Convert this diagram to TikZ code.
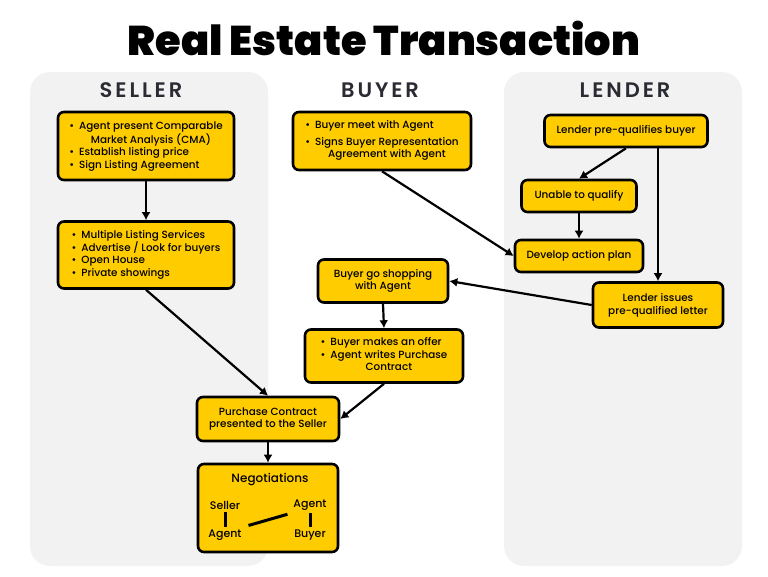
\documentclass[tikz,border=0pt]{standalone}
\usepackage{fontspec}
\setmainfont{Poppins}[UprightFont=* Medium, BoldFont=* Bold]
\newfontfamily\headfont[LetterSpace=14]{Poppins SemiBold}
\newfontfamily\titlefont{Poppins Black}
\usetikzlibrary{arrows.meta}

\definecolor{boxyellow}{HTML}{FFCC00}
\definecolor{panelgray}{HTML}{F2F2F2}
\definecolor{headgray}{HTML}{2B2B33}

\newcommand{\bul}[1]{\textbullet\hspace{5pt}#1}
\newcommand{\bulm}[1]{\textbullet\hspace{5pt}\begin{tabular}[t]{@{}c@{}}#1\end{tabular}}

\begin{document}
\begin{tikzpicture}[x=1pt, y=-1pt, >={Latex[length=8pt,width=9pt]}, line width=2.2pt,
  stage/.style={draw, line width=2.6pt, fill=boxyellow, rounded corners=6pt, inner sep=2pt,
    align=center, font=\fontsize{10.4}{12.8}\selectfont},
  lane/.style={fill=panelgray, rounded corners=20pt},
  lanetitle/.style={text=headgray, font=\headfont\fontsize{21}{24}\selectfont},
  person/.style={inner sep=2pt, font=\fontsize{11}{12}\selectfont}];

\useasboundingbox (0,0) rectangle (768,576);

\fill[lane] (30,72)  rectangle (268,566);
\fill[lane] (504,72) rectangle (742,566);

\node (title) at (384,38) [font=\titlefont\fontsize{41.5}{44}\selectfont] {Real Estate Transaction};

\node (sellerhead) at (141,90) [lanetitle] {SELLER};
\node (buyerhead)  at (380,90) [lanetitle] {BUYER};
\node (lenderhead) at (625,90) [lanetitle] {LENDER};

\node (seller1) at (146,146) [stage, align=left, minimum width=176pt, minimum height=68pt]
  {\bulm{Agent present Comparable\\Market Analysis (CMA)}\\\bul{Establish listing price}\\\bul{Sign Listing Agreement}};
\node (seller2) at (146,255) [stage, align=left, minimum width=176pt, minimum height=67pt]
  {\bul{Multiple Listing Services}\\\bul{Advertise / Look for buyers}\\\bul{Open House}\\\bul{Private showings}};

\node (buyer1) at (382,141) [stage, align=left, minimum width=178pt, minimum height=58pt]
  {\bul{Buyer meet with Agent}\\[4pt]\bulm{Signs Buyer Representation\\Agreement with Agent}};
\node (buyer2) at (383,281) [stage, minimum width=130pt, minimum height=43pt] {Buyer go shopping\\with Agent};
\node (buyer3) at (384,356) [stage, align=left, minimum width=158pt, minimum height=53pt]
  {\bul{Buyer makes an offer}\\\bulm{Agent writes Purchase\\Contract}};

\node (lender1) at (626,131) [stage, minimum width=163pt, minimum height=32pt] {Lender pre-qualifies buyer};
\node (lender2) at (579,196) [stage, minimum width=115pt, minimum height=32pt] {Unable to qualify};
\node (lender3) at (579,256) [stage, minimum width=128pt, minimum height=32pt] {Develop action plan};
\node (lender4) at (658,305) [stage, minimum width=130pt, minimum height=45pt] {Lender issues\\pre-qualified letter};

\node (contract) at (268,419) [stage, minimum width=142pt, minimum height=44pt] {Purchase Contract\\presented to the Seller};
\node (negot)    at (268,508) [stage, minimum width=140pt, minimum height=88pt] {};

\node (negottitle) at (270,480) [font=\fontsize{12}{13}\selectfont] {Negotiations};
\node (negseller)  at (225,505) [person] {Seller};
\node (negagent1)  at (225,535) [person] {Agent};
\node (negagent2)  at (310,505) [person] {Agent};
\node (negbuyer)   at (310,535) [person] {Buyer};

\path[->] (seller1.south) edge (seller2.north);
\path[->] (seller2.south) edge (contract.north);

\path[->] (buyer1.south) edge (lender3.west);
\path[->] (buyer2.south) edge (buyer3.north);
\path[->] (buyer3.south) edge (contract.east);

\path[->] (lender1.south) edge (lender2.north);
\path[->] (lender1.south -| lender4.north) edge (lender4.north);
\path[->] (lender2.south) edge (lender3.north);
\path[->] (lender4.west)  edge (buyer2.east);

\path[->] (contract.south) edge (negot.north);

\path[line width=3pt] (negseller.south) edge (negagent1.north);
\path[line width=3pt] (negagent2.south) edge (negbuyer.north);
\path[line width=3pt, shorten <=4pt, shorten >=3pt] (negagent1.north east) edge (negagent2.south west);

\end{tikzpicture}
\end{document}
